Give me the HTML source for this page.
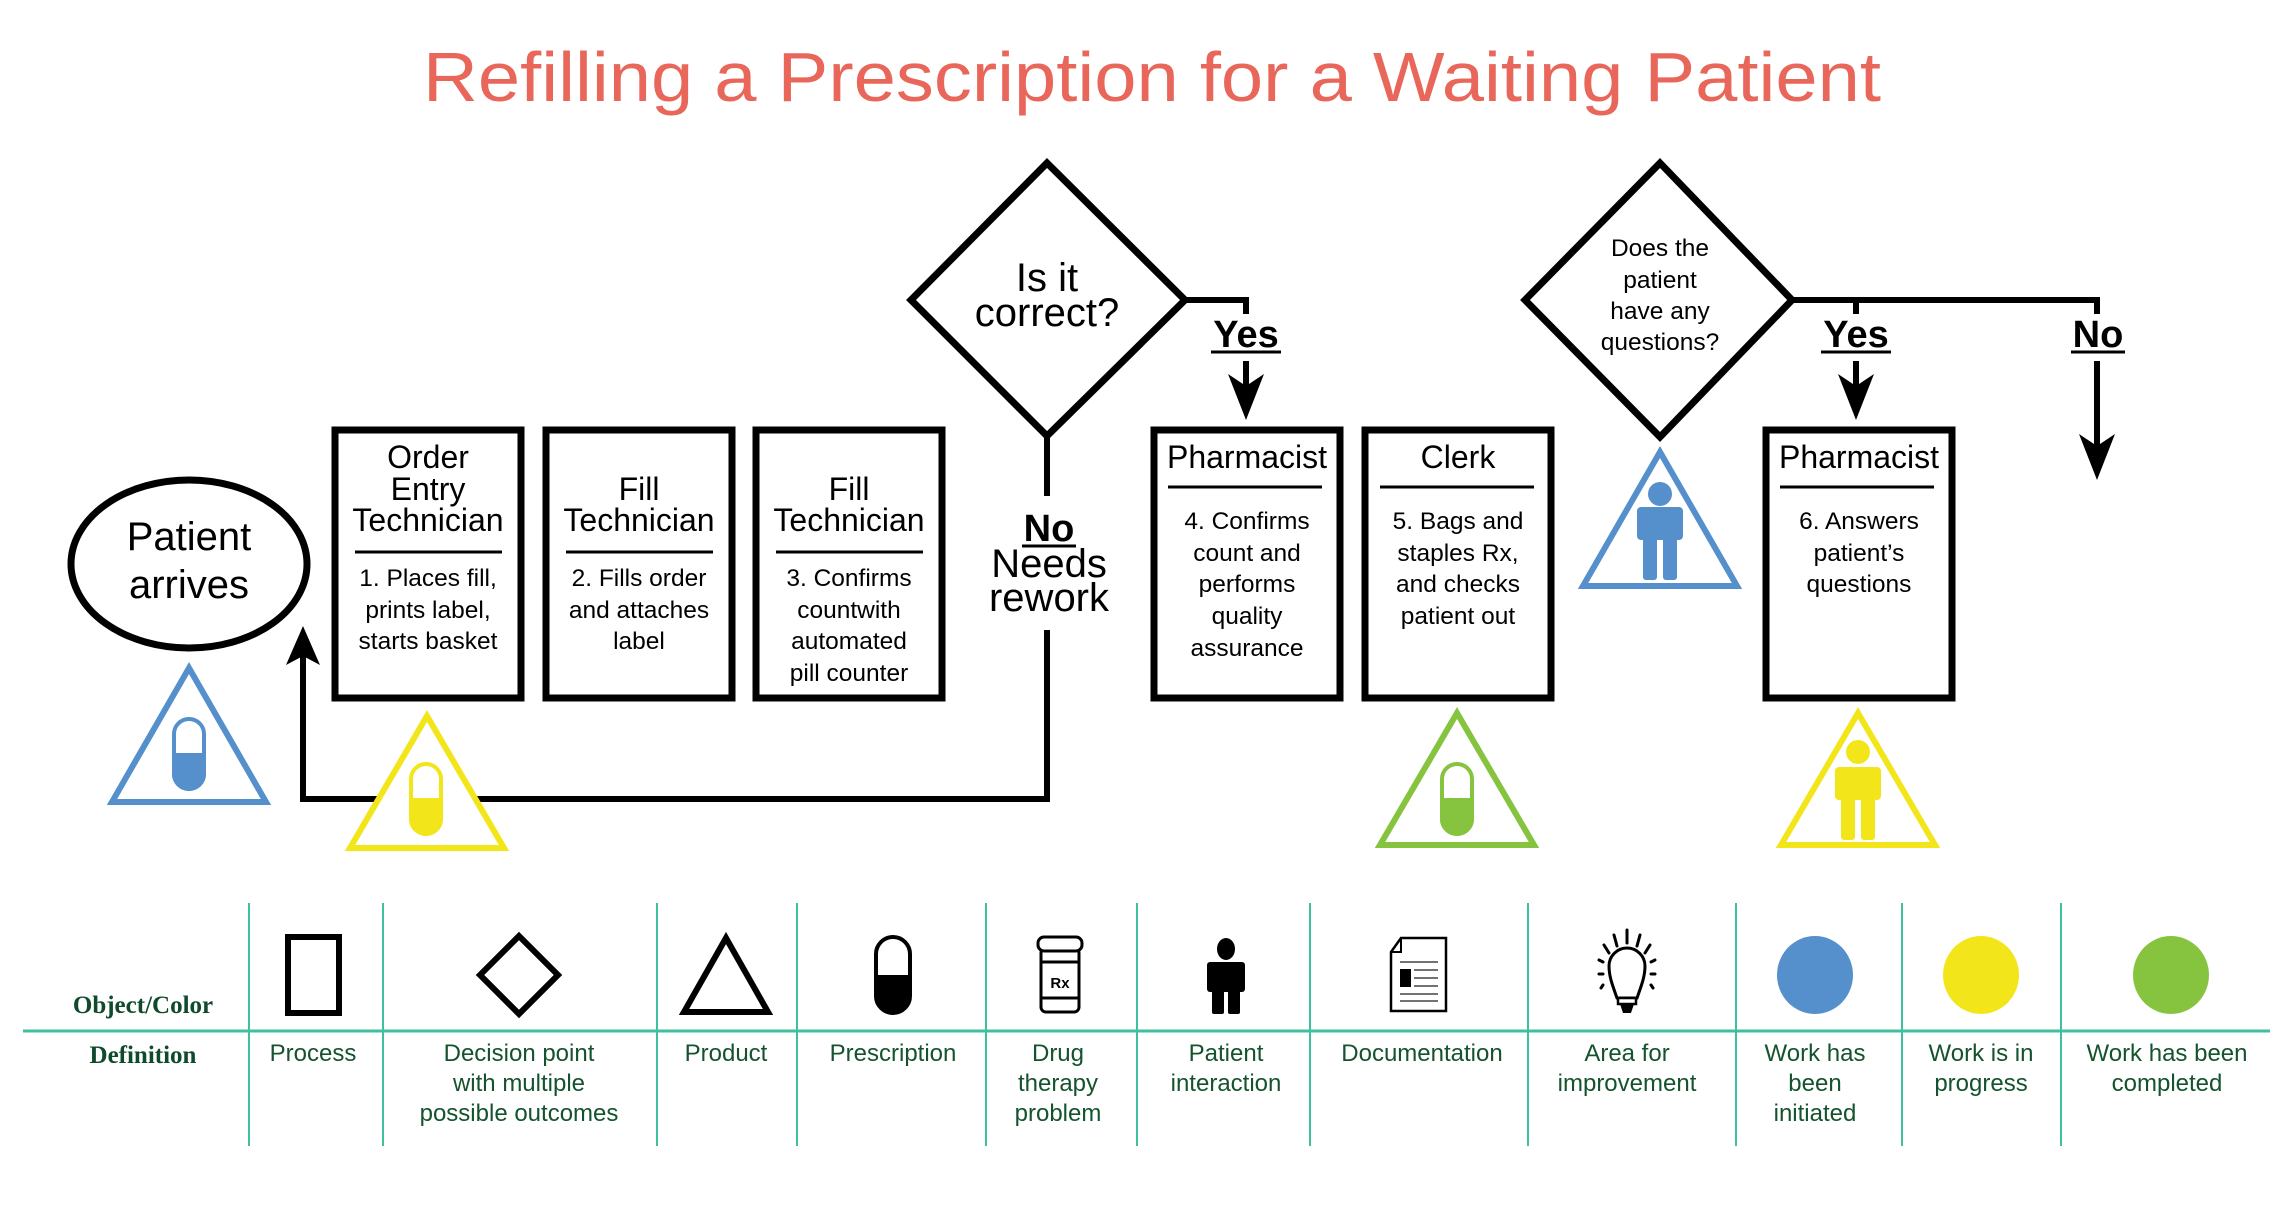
<!DOCTYPE html>
<html><head><meta charset="utf-8"><style>
html,body{margin:0;padding:0;background:#fff;}
svg{display:block;}
</style></head><body>
<svg width="2289" height="1220" viewBox="0 0 2289 1220" xmlns="http://www.w3.org/2000/svg" font-family="Liberation Sans, sans-serif">
<rect width="2289" height="1220" fill="#fff"/>
<text x="1152" y="101" font-size="70" fill="#e8675a" text-anchor="middle" textLength="1458" lengthAdjust="spacingAndGlyphs">Refilling a Prescription for a Waiting Patient</text>

<g fill="none" stroke="#000" stroke-width="7">
<ellipse cx="189" cy="564" rx="118" ry="84"/>
<rect x="335" y="430" width="186" height="268"/>
<rect x="546" y="430" width="186" height="268"/>
<rect x="756" y="430" width="186" height="268"/>
<rect x="1154" y="430" width="186" height="268"/>
<rect x="1365" y="430" width="186" height="268"/>
<rect x="1766" y="430" width="186" height="268"/>
<polygon points="1047,163 1185,300 1047,436 911,300"/>
<polygon points="1660,163 1792,300 1660,437 1525,300"/>
</g>
<g stroke="#000" stroke-width="3">
<line x1="355" y1="552" x2="502" y2="552"/>
<line x1="566" y1="552" x2="713" y2="552"/>
<line x1="776" y1="552" x2="923" y2="552"/>
<line x1="1168" y1="487" x2="1322" y2="487"/>
<line x1="1380" y1="487" x2="1534" y2="487"/>
<line x1="1780" y1="487" x2="1934" y2="487"/>
</g>
<g fill="none" stroke="#000" stroke-width="6">
<polyline points="1047,436 1047,496"/>
<polyline points="1047,630 1047,799 303,799 303,655"/>
<polyline points="1185,300 1246,300 1246,314"/>
<line x1="1246" y1="361" x2="1246" y2="390"/>
<polyline points="1792,300 2097,300 2097,314"/>
<line x1="1856" y1="300" x2="1856" y2="314"/>
<line x1="1856" y1="361" x2="1856" y2="390"/>
<line x1="2097" y1="361" x2="2097" y2="450"/>
</g>
<g fill="#000">
<polygon points="303,626 320,665 303,656 286,665"/>
<polygon points="1246,420 1228,374 1246,386 1264,374"/>
<polygon points="1856,420 1838,374 1856,386 1874,374"/>
<polygon points="2097,480 2079,434 2097,446 2115,434"/>
</g>
<g font-size="40" text-anchor="middle" fill="#000">
<text x="189" y="550">Patient</text>
<text x="189" y="598">arrives</text>
<text x="1047" y="291">Is it</text>
<text x="1047" y="326">correct?</text>
<text x="1049" y="577">Needs</text>
<text x="1049" y="611">rework</text>
</g>
<g font-size="38" font-weight="bold" text-anchor="middle" fill="#000">
<text x="1049" y="541">No</text>
<text x="1246" y="347">Yes</text>
<text x="1856" y="347">Yes</text>
<text x="2098" y="347">No</text>
</g>
<g stroke="#000" stroke-width="3">
<line x1="1022" y1="546" x2="1076" y2="546"/>
<line x1="1211" y1="352" x2="1281" y2="352"/>
<line x1="1821" y1="352" x2="1891" y2="352"/>
<line x1="2071" y1="352" x2="2125" y2="352"/>
</g>
<g font-size="32" text-anchor="middle" fill="#000">
<text x="428" y="468">Order</text><text x="428" y="500">Entry</text><text x="428" y="531">Technician</text>
<text x="639" y="500">Fill</text><text x="639" y="531">Technician</text>
<text x="849" y="500">Fill</text><text x="849" y="531">Technician</text>
<text x="1247" y="468">Pharmacist</text>
<text x="1458" y="468">Clerk</text>
<text x="1859" y="468">Pharmacist</text>
</g>
<g font-size="24.5" text-anchor="middle" fill="#000">
<text x="428" y="586">1. Places fill,</text><text x="428" y="618">prints label,</text><text x="428" y="649">starts basket</text>
<text x="639" y="586">2. Fills order</text><text x="639" y="618">and attaches</text><text x="639" y="649">label</text>
<text x="849" y="586">3. Confirms</text><text x="849" y="618">countwith</text><text x="849" y="649">automated</text><text x="849" y="681">pill counter</text>
<text x="1247" y="529">4. Confirms</text><text x="1247" y="561">count and</text><text x="1247" y="592">performs</text><text x="1247" y="624">quality</text><text x="1247" y="656">assurance</text>
<text x="1458" y="529">5. Bags and</text><text x="1458" y="561">staples Rx,</text><text x="1458" y="592">and checks</text><text x="1458" y="624">patient out</text>
<text x="1859" y="529">6. Answers</text><text x="1859" y="561">patient’s</text><text x="1859" y="592">questions</text>
<text x="1660" y="256">Does the</text><text x="1660" y="288">patient</text><text x="1660" y="319">have any</text><text x="1660" y="350">questions?</text>
</g>

<g fill="#fff" stroke-width="6">
<polygon points="189,668 266,802 112,802" stroke="#5590cc"/>
<polygon points="427,716 504,848 350,848" stroke="#f2e61a"/>
<polygon points="1457,713 1534,845 1380,845" stroke="#86c440"/>
<polygon points="1858,713 1935,845 1781,845" stroke="#f2e61a"/>
<polygon points="1660,452 1737,586 1583,586" stroke="#5590cc"/>
</g>
<g stroke-width="4">
<path d="M174,734 a15,15 0 0 1 30,0 V774 a15,15 0 0 1 -30,0 Z" fill="#fff" stroke="#5590cc"/>
<path d="M174,755 H204 V774 a15,15 0 0 1 -30,0 Z" fill="#5590cc" stroke="#5590cc"/>
<path d="M411,779 a15,15 0 0 1 30,0 V819 a15,15 0 0 1 -30,0 Z" fill="#fff" stroke="#f2e61a"/>
<path d="M411,800 H441 V819 a15,15 0 0 1 -30,0 Z" fill="#f2e61a" stroke="#f2e61a"/>
<path d="M1442,779 a15,15 0 0 1 30,0 V819 a15,15 0 0 1 -30,0 Z" fill="#fff" stroke="#86c440"/>
<path d="M1442,800 H1472 V819 a15,15 0 0 1 -30,0 Z" fill="#86c440" stroke="#86c440"/>
</g>
<g fill="#5590cc">
<circle cx="1660" cy="494" r="12"/>
<rect x="1637" y="507" width="46" height="33" rx="4"/>
<rect x="1643" y="535" width="14" height="45" rx="3"/><rect x="1663" y="535" width="14" height="45" rx="3"/>
</g>
<g fill="#f2e61a">
<circle cx="1858" cy="752" r="12"/>
<rect x="1835" y="767" width="46" height="33" rx="4"/>
<rect x="1841" y="795" width="14" height="45" rx="3"/><rect x="1861" y="795" width="14" height="45" rx="3"/>
</g>

<g stroke="#3fbf9e" stroke-width="2">
<line x1="23" y1="1031" x2="2270" y2="1031" stroke-width="3"/>
<line x1="249" y1="903" x2="249" y2="1146"/>
<line x1="383" y1="903" x2="383" y2="1146"/>
<line x1="657" y1="903" x2="657" y2="1146"/>
<line x1="797" y1="903" x2="797" y2="1146"/>
<line x1="986" y1="903" x2="986" y2="1146"/>
<line x1="1137" y1="903" x2="1137" y2="1146"/>
<line x1="1310" y1="903" x2="1310" y2="1146"/>
<line x1="1528" y1="903" x2="1528" y2="1146"/>
<line x1="1736" y1="903" x2="1736" y2="1146"/>
<line x1="1902" y1="903" x2="1902" y2="1146"/>
<line x1="2061" y1="903" x2="2061" y2="1146"/>
</g>
<g font-family="Liberation Serif, serif" font-weight="bold" font-size="25" fill="#0f4a2c" text-anchor="middle">
<text x="143" y="1013">Object/Color</text>
<text x="143" y="1063">Definition</text>
</g>
<g font-size="24" fill="#14532d" text-anchor="middle">
<text x="313" y="1061">Process</text>
<text x="519" y="1061">Decision point</text><text x="519" y="1091">with multiple</text><text x="519" y="1121">possible outcomes</text>
<text x="726" y="1061">Product</text>
<text x="893" y="1061">Prescription</text>
<text x="1058" y="1061">Drug</text><text x="1058" y="1091">therapy</text><text x="1058" y="1121">problem</text>
<text x="1226" y="1061">Patient</text><text x="1226" y="1091">interaction</text>
<text x="1422" y="1061">Documentation</text>
<text x="1627" y="1061">Area for</text><text x="1627" y="1091">improvement</text>
<text x="1815" y="1061">Work has</text><text x="1815" y="1091">been</text><text x="1815" y="1121">initiated</text>
<text x="1981" y="1061">Work is in</text><text x="1981" y="1091">progress</text>
<text x="2167" y="1061">Work has been</text><text x="2167" y="1091">completed</text>
</g>
<g fill="none" stroke="#000" stroke-width="6">
<rect x="288" y="937" width="51" height="76"/>
<polygon points="519,936 558,975 519,1014 480,975"/>
<polygon points="726,938 768,1012 684,1012"/>
</g>
<path d="M876,954 a17,17 0 0 1 34,0 V996 a17,17 0 0 1 -34,0 Z" fill="#fff" stroke="#000" stroke-width="4"/>
<path d="M876,975 H910 V996 a17,17 0 0 1 -34,0 Z" fill="#000"/>
<g stroke="#000" stroke-width="3" fill="#fff">
<rect x="1041" y="948" width="38" height="64" rx="5"/>
<rect x="1038" y="937" width="44" height="14" rx="6"/>
<line x1="1041" y1="962" x2="1079" y2="962"/>
<line x1="1041" y1="998" x2="1079" y2="998"/>
</g>
<text x="1060" y="988" font-size="15" font-weight="bold" text-anchor="middle" fill="#000">Rx</text>
<g fill="#000">
<ellipse cx="1226" cy="949" rx="9" ry="11"/>
<rect x="1207" y="962" width="38" height="30" rx="3"/>
<rect x="1212" y="985" width="12" height="29" rx="2"/><rect x="1228" y="985" width="12" height="29" rx="2"/>
</g>
<path d="M1401,938 H1446 V1011 H1391 V952 Z" fill="#fff" stroke="#000" stroke-width="2.5"/>
<path d="M1401,938 V952 H1391" fill="none" stroke="#000" stroke-width="2"/>
<rect x="1400" y="969" width="11" height="18" fill="#000"/>
<g stroke="#444" stroke-width="1.5">
<line x1="1400" y1="962" x2="1438" y2="962"/><line x1="1414" y1="970" x2="1438" y2="970"/><line x1="1414" y1="978" x2="1438" y2="978"/><line x1="1414" y1="986" x2="1438" y2="986"/><line x1="1400" y1="994" x2="1438" y2="994"/><line x1="1400" y1="1001" x2="1438" y2="1001"/>
</g>
<path d="M1617,998 C1612,984 1609,976 1609,966 a18,18 0 0 1 36,0 C1645,976 1642,984 1637,998 Z" fill="#fff" stroke="#000" stroke-width="3"/>
<rect x="1618" y="998" width="18" height="6" fill="#fff" stroke="#000" stroke-width="2.5"/>
<path d="M1620,1004 H1634 L1631,1013 H1623 Z" fill="#000"/>
<g stroke="#000" stroke-width="3" stroke-linecap="round">
<line x1="1627" y1="930" x2="1627" y2="943"/>
<line x1="1614" y1="935" x2="1617" y2="946"/><line x1="1640" y1="935" x2="1637" y2="946"/>
<line x1="1604" y1="945" x2="1609" y2="953"/><line x1="1650" y1="945" x2="1645" y2="953"/>
<line x1="1599" y1="960" x2="1603" y2="962"/><line x1="1655" y1="960" x2="1651" y2="962"/>
<line x1="1599" y1="974" x2="1603" y2="974"/><line x1="1655" y1="974" x2="1651" y2="974"/>
<line x1="1601" y1="988" x2="1603" y2="985"/><line x1="1653" y1="988" x2="1651" y2="985"/>
</g>
<ellipse cx="1815" cy="975" rx="38" ry="39" fill="#5590cc"/>
<ellipse cx="1981" cy="975" rx="38" ry="39" fill="#f2e61a"/>
<ellipse cx="2171" cy="975" rx="38" ry="39" fill="#86c440"/>
</svg>
</body></html>
